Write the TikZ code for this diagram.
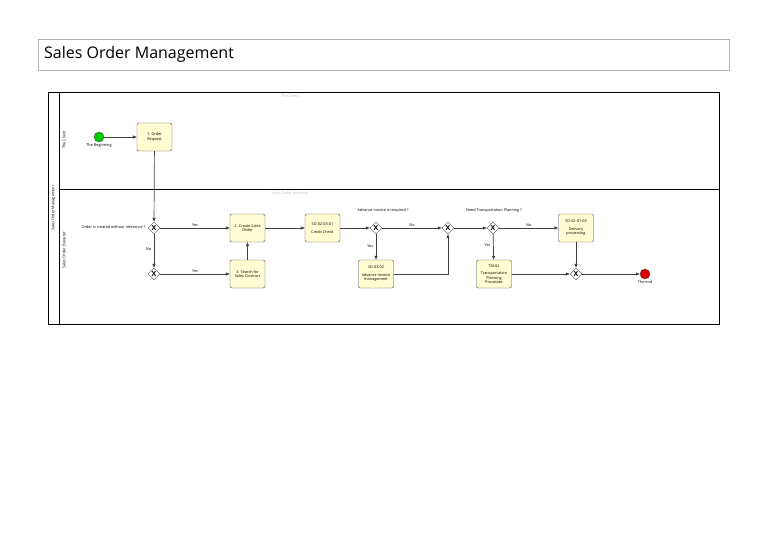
\documentclass[tikz,border=0pt]{standalone}
\usepackage{fontspec}
\setmainfont{Open Sans}
\usetikzlibrary{shapes.geometric,arrows.meta,positioning}
\begin{document}
\begin{tikzpicture}[x=1pt,y=-1pt,
 tiny/.style={font=\fontsize{3.8}{4.5}\selectfont,inner sep=0.5pt},
 task/.style={draw=black!70,fill=yellow!18,rounded corners=2pt,minimum width=35pt,minimum height=28pt,align=center,font=\fontsize{3.8}{4.5}\selectfont,inner sep=1pt},
 gw/.style={draw=black!70,fill=white,diamond,minimum width=12pt,minimum height=12pt,inner sep=0pt,font=\bfseries\fontsize{7}{7}\selectfont},
 flow/.style={draw=black!75,line width=0.7pt,-{Triangle[length=4pt,width=3pt]}},
 lane/.style={draw=black,line width=0.7pt}]
\useasboundingbox (0,0) rectangle (768,543);
\node[draw=black!30,minimum width=691pt,minimum height=31pt,anchor=north west,inner sep=0] (title) at (38,39) {};
\node[anchor=west,font=\fontsize{16}{18}\selectfont,inner sep=0] (tt) at (44,54.5) {Sales Order Management};
\draw[lane] (48,92) rectangle (719,324);
\draw[lane] (59,92) -- (59,324);
\draw[lane] (59,189) -- (719,189);
\node[tiny,rotate=90] (pl) at (53.5,208) {Sales Order Management};
\node[tiny,rotate=90] (l1) at (64,140) {The Client};
\node[tiny,rotate=90] (l2) at (64,250) {Sales Order Executor};
\node[tiny,text=black!25] (l1t) at (290,96) {The Client};
\node[tiny,text=black!25] (l2t) at (290,193) {Sales Order Executor};
\node[circle,draw=black!70,fill=green!80!black,minimum size=10pt,inner sep=0] (s) at (99,137) {};
\node[tiny,below=1pt of s] (sl) {The Beginning};
\node[task] (t1) at (154.5,137) {1. Order\\Request};
\node[gw] (g1) at (154,228) {X};
\node[gw] (g2) at (154,274) {X};
\node[task] (t2) at (247.5,228) {2. Create Sales\\Order};
\node[task] (t3) at (247.5,274) {3. Search for\\Sales Contract};
\node[task] (t4) at (322.5,228) {SD-02-03-01\\[3pt]Credit Check};
\node[gw] (g3) at (376,228) {X};
\node[task] (t5) at (376,274) {SD-03-02\\[3pt]Advance invoice\\management};
\node[gw] (g4) at (448,228) {X};
\node[gw] (g5) at (493,228) {X};
\node[task] (t6) at (494,274) {TM-02\\[3pt]Transportation\\Planning\\Processes};
\node[task] (t7) at (576,228) {SD-02-01-03\\[3pt]Delivery\\processing};
\node[gw] (g6) at (576,274) {X};
\node[circle,draw=black!70,fill=red!85!black,minimum size=10pt,inner sep=0] (e) at (645,274) {};
\node[tiny,below=1pt of e] (el) {The end};
\draw[flow] (s) -- (t1);
\draw[flow] (t1) -- (g1);
\draw[flow] (g1) -- node[tiny,above=1pt]{Yes} (t2);
\draw[flow] (g1) -- node[tiny,left=2pt,pos=0.45]{No} (g2);
\draw[flow] (g2) -- node[tiny,above=1pt]{Yes} (t3);
\draw[flow] (t3) -- (t2);
\draw[flow] (t2) -- (t4);
\draw[flow] (t4) -- (g3);
\draw[flow] (g3) -- node[tiny,above=1pt]{No} (g4);
\draw[flow] (g3) -- node[tiny,left=2pt,pos=0.45]{Yes} (t5);
\draw[flow] (t5.east) -| (g4);
\draw[flow] (g4) -- (g5);
\draw[flow] (g5) -- node[tiny,above=1pt]{No} (t7);
\draw[flow] (g5) -- node[tiny,left=2pt,pos=0.45]{Yes} (t6);
\draw[flow] (t7) -- (g6);
\draw[flow] (t6) -- (g6);
\draw[flow] (g6) -- (e);
\node[tiny,anchor=east] (q1) at (146,227) {Order is created without reference ?};
\node[tiny] (q2) at (383,211) {Advance invoice is required ?};
\node[tiny] (q3) at (494,211) {Need Transportation Planning ?};
\end{tikzpicture}
\end{document}
